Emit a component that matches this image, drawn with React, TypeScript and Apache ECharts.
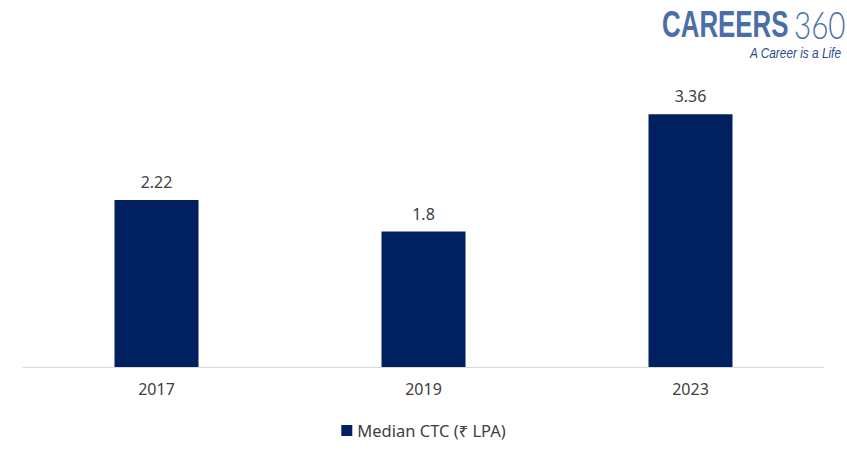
import React, { useEffect, useRef } from "react";
import * as echarts from "echarts";

const categories = ["2017", "2019", "2023"];
const medianCtc = [2.22, 1.8, 3.36];
const seriesName = "Median CTC (₹ LPA)";

export default function App() {
  const ref = useRef<HTMLDivElement>(null);
  useEffect(() => {
    if (!ref.current) return;
    const chart = echarts.init(ref.current, undefined, { renderer: "svg" });
    const font = "'Noto Sans', sans-serif";
    chart.setOption({
      animation: false,
      backgroundColor: "#ffffff",
      grid: { left: 23, top: 66, width: 801, height: 301, containLabel: false },
      xAxis: {
        type: "category",
        data: categories,
        axisLine: { lineStyle: { color: "#d9d9d9", width: 1 } },
        axisTick: { show: false },
        axisLabel: { color: "#404040", fontSize: 16, fontFamily: font, margin: 14 },
      },
      yAxis: {
        type: "value",
        min: 0,
        max: 4,
        show: false,
        splitLine: { show: false },
      },
      legend: {
        data: [seriesName],
        bottom: 20,
        left: "center",
        icon: "rect",
        itemWidth: 11,
        itemHeight: 11,
        itemGap: 5,
        textStyle: { color: "#404040", fontSize: 16.5, fontFamily: font },
      },
      series: [
        {
          name: seriesName,
          type: "bar",
          data: medianCtc,
          barWidth: 84,
          itemStyle: { color: "#002060" },
          label: {
            show: true,
            position: "top",
            distance: 10,
            color: "#404040",
            fontSize: 16,
            fontFamily: font,
          },
        },
      ],
      graphic: [
        {
          type: "text",
          x: 662,
          y: 6,
          scaleX: 0.7,
          style: {
            text: "CAREERS",
            fill: "#4a6ea8",
            font: "bold 37px 'Liberation Sans', Arial, sans-serif",
            textAlign: "left",
            textVerticalAlign: "top",
          },
        },
        {
          type: "text",
          x: 794,
          y: 6,
          scaleX: 0.8,
          style: {
            text: "360",
            fill: "#4a6ea8",
            font: "300 37px Lato, 'Liberation Sans', sans-serif",
            textAlign: "left",
            textVerticalAlign: "top",
          },
        },
        {
          type: "text",
          x: 750,
          y: 45,
          scaleX: 0.79,
          style: {
            text: "A Career is a Life",
            fill: "#2b4c8c",
            font: "italic 15px 'Liberation Sans', Arial, sans-serif",
            textAlign: "left",
            textVerticalAlign: "top",
          },
        },
      ],
    });
    return () => chart.dispose();
  }, []);
  return (
    <div
      ref={ref}
      style={{ position: "absolute", left: 0, top: 0, width: 847, height: 464 }}
    />
  );
}
